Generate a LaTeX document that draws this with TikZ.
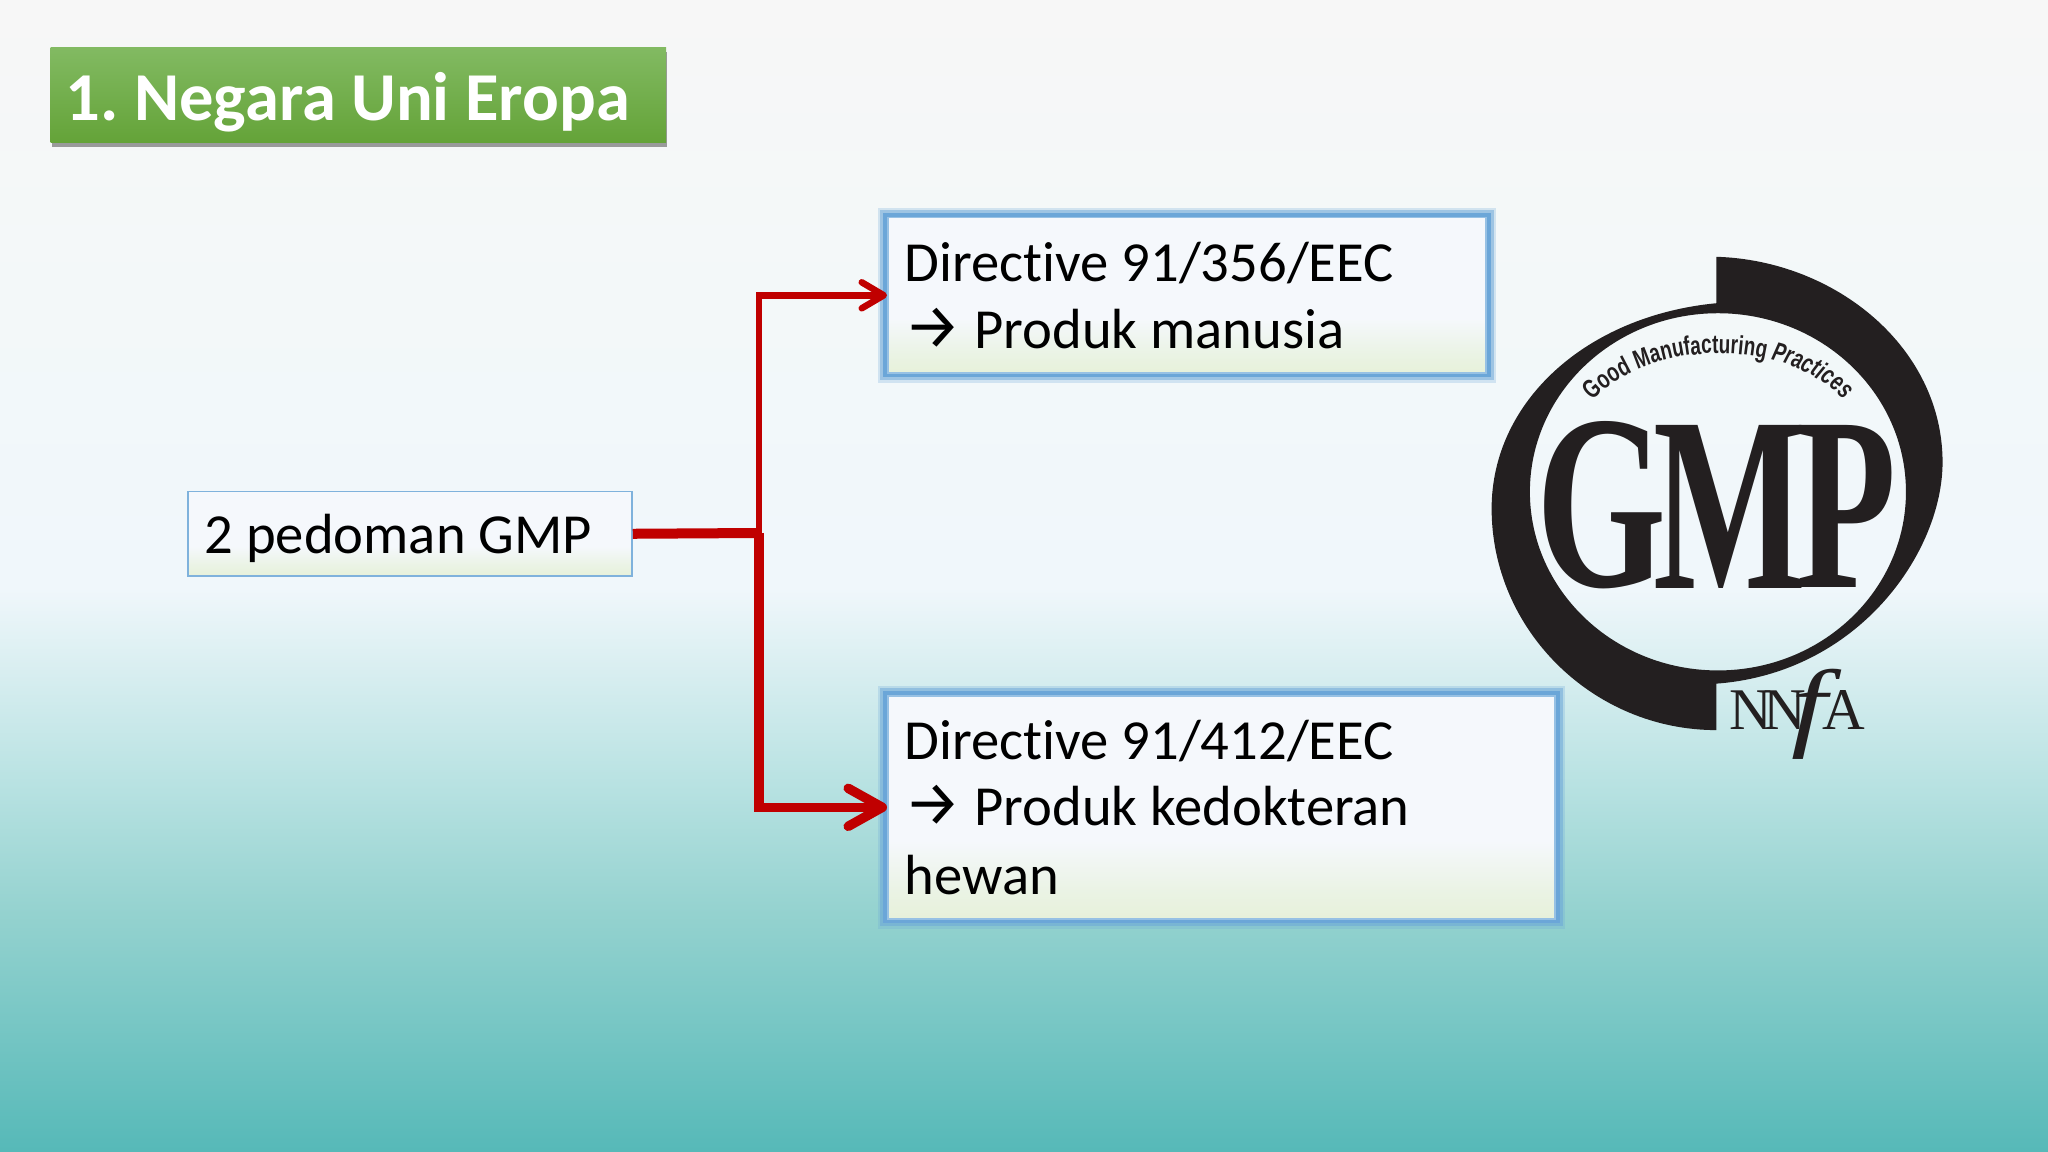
\documentclass[tikz,border=0pt]{standalone}
\usepackage{fontspec}
\usepackage{graphicx}
\setmainfont[Ligatures=CommonOff]{Carlito}
\newfontfamily\logoserif{Liberation Serif}
\newfontfamily\logosans[FakeStretch=0.72]{Liberation Sans}
\newfontfamily\arrowfont{Fira Sans}
\frenchspacing
\usetikzlibrary{arrows.meta, positioning, calc, shadows, decorations.text}

\definecolor{slidetop}{HTML}{F7F7F7}
\definecolor{slidemid}{HTML}{F0F7FB}
\definecolor{slidelow}{HTML}{B8E2E2}
\definecolor{slidedeep}{HTML}{94D2CF}
\definecolor{slidebot}{HTML}{56B9B8}
\definecolor{slideupper}{HTML}{F3F8F9}
\definecolor{headtop}{HTML}{82BA62}
\definecolor{headbot}{HTML}{64A338}
\definecolor{boxtop}{HTML}{F5F8FC}
\definecolor{boxbot}{HTML}{E7F1DA}
\definecolor{boxlow}{HTML}{EAF3E4}
\definecolor{glowblue}{HTML}{6BA6D8}
\definecolor{thinblue}{HTML}{7FB2DC}
\definecolor{linkred}{HTML}{C00000}
\definecolor{logoblack}{HTML}{231F20}

% tikz fits the path into the middle 50bp of the shading
\pgfdeclareverticalshading{slidebg}{100bp}{color(0bp)=(slidebot); color(25bp)=(slidebot); color(35.35bp)=(slidedeep); color(41bp)=(slidelow); color(49.5bp)=(slidemid); color(62bp)=(slideupper); color(75bp)=(slidetop); color(100bp)=(slidetop)}
\pgfdeclareverticalshading{paneshade}{100bp}{color(0bp)=(boxbot); color(25bp)=(boxbot); color(31bp)=(boxlow); color(42.5bp)=(boxtop); color(75bp)=(boxtop); color(100bp)=(boxtop)}

\tikzset{
  plainpane/.style={rectangle, shading=paneshade, draw=thinblue, line width=0.015cm, inner xsep=0.17cm, inner ysep=0, anchor=north west, align=flush left, font=\fontsize{16.1}{19.5}\selectfont},
  glowpane/.style={plainpane, draw=glowblue!70, preaction={draw=glowblue, draw opacity=0.25, line width=0.2cm}, preaction={draw=glowblue, draw opacity=0.5, line width=0.15cm}, preaction={draw=glowblue, line width=0.09cm}},
  linkline/.style={draw=linkred, line width=0.1cm},
}
\newcommand{\toarrow}{{\kern-0.5pt\arrowfont\fontsize{18}{19.5}\selectfont →}}
\newcommand{\logotext}{\logosans\fontsize{7.5}{8}\selectfont\bfseries}

\begin{document}
\begin{tikzpicture}[x=0.01cm, y=-0.01cm]
  \fill[shading=slidebg] (0,0) rectangle (2048,1152);

  % heading
  \node[rectangle, anchor=north west, top color=headtop, bottom color=headbot, minimum width=6.15cm, minimum height=0.95cm, text width=5.85cm, text height=0.73cm, text depth=0.22cm, inner xsep=0.15cm, inner ysep=0, align=flush left, text=white, font=\fontsize{19.5}{23}\selectfont\bfseries, drop shadow={shadow xshift=0.01cm, shadow yshift=-0.04cm, fill=black!55, opacity=0.7}] (heading) at (50,47) {1. Negara Uni Eropa};

  % boxes
  \node[plainpane, minimum width=4.44cm, minimum height=0.84cm, text width=4.1cm, text height=0.6cm, text depth=0.2cm] (pedoman) at (187,491) {2 pedoman GMP};
  \node[glowpane, minimum width=5.98cm, minimum height=1.55cm, text width=5.64cm] (human) at (887,217) {Directive 91/356/EEC\\\toarrow{} Produk manusia};
  \node[glowpane, minimum width=6.67cm, minimum height=2.23cm, text width=6.33cm] (vet) at (887,695) {Directive 91/412/EEC\\\toarrow{} Produk kedokteran\\hewan};

  % connectors
  \coordinate (trunk) at (759,533);
  \draw[linkline] (pedoman.east) -- (trunk);
  \draw[linkline, line width=0.065cm, -{Straight Barb[length=0.22cm, width=0.26cm, round]}] (trunk) |- (human.west);
  \draw[linkline, line width=0.095cm, -{Straight Barb[length=0.34cm, width=0.38cm, round]}] (trunk) |- (vet.west);

  % logo
  \begin{scope}[shift={(1460,230)}, x=0.00333cm, y=-0.00357cm]
    \fill[logoblack, even odd rule] (770,75) .. controls (1130,85) and (1450,330) .. (1450,650)
      .. controls (1450,900) and (1200,1240) .. (770,1270) -- (770,1400)
      .. controls (400,1400) and (95,1120) .. (95,780)
      .. controls (95,480) and (380,240) .. (770,205) -- cycle
      (775,733) ellipse [x radius=565, y radius=500];
    \path[decorate, decoration={text along path, text color=logoblack, text align=center,
      text={|\logotext|Good Manufacturing |\logotext\itshape|Practices}}]
      (385,490) .. controls (560,297) and (1000,297) .. (1165,490);
    \node[inner sep=0, text=logoblack, font=\logoserif\bfseries] (letterg) at (425,771) {\resizebox{1.3cm}{1.65cm}{G}};
    \node[inner sep=0, text=logoblack, font=\logoserif\bfseries] (letterm) at (810,774) {\resizebox{1.53cm}{1.63cm}{M}};
    \node[inner sep=0, text=logoblack, font=\logoserif\bfseries] (letterp) at (1160,774) {\resizebox{1cm}{1.62cm}{P}};
    \node[inner sep=0, text=logoblack, font=\logoserif\fontsize{16.8}{18}\selectfont] (nn) at (925,1345) {N\kern-0.15em N};
    \node[inner sep=0, text=logoblack, font=\logoserif\itshape\fontsize{28}{30}\selectfont] (letterf) at (1050,1357) {\scalebox{1.3}[1]{f}};
    \node[inner sep=0, text=logoblack, font=\logoserif\fontsize{16.8}{18}\selectfont] (lettera) at (1152,1345) {A};
  \end{scope}
\end{tikzpicture}
\end{document}
